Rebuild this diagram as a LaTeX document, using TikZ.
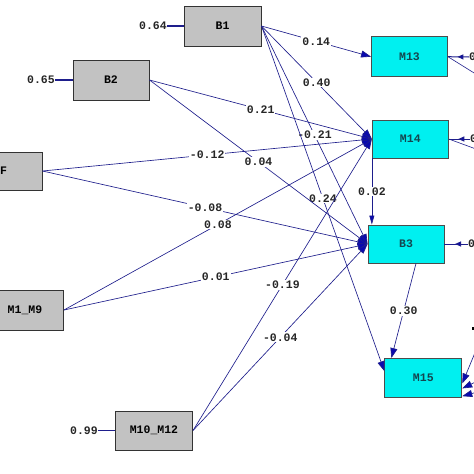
\documentclass[tikz,border=0pt]{standalone}
\usepackage{fontspec}
\setmonofont{Liberation Mono}
\usetikzlibrary{arrows.meta,decorations.markings}
\definecolor{edgeblue}{RGB}{30,30,140}
\definecolor{tipblue}{RGB}{10,10,175}
\definecolor{boxgrey}{RGB}{194,194,194}
\definecolor{boxcyan}{RGB}{0,240,240}
\definecolor{cyantext}{RGB}{20,70,80}
\begin{document}
\begin{tikzpicture}[x=1pt,y=-1pt,
  font=\ttfamily\bfseries\fontsize{11.5}{12}\selectfont,
  obs/.style={draw=black!80, line width=1pt, fill=boxgrey, minimum width=77pt, minimum height=40pt, inner sep=0pt},
  endo/.style={draw=black!70, line width=0.9pt, fill=boxcyan, minimum width=76pt, minimum height=38pt, inner sep=0pt, text=cyantext},
  pathedge/.style={draw=edgeblue, line width=0.65pt, -{Triangle[length=10pt,width=7pt,fill=tipblue]}},
  coef/.style={fill=white, inner sep=1pt, midway, text=black!85},
  errline/.style={draw=edgeblue, line width=1.3pt},
  errarrow/.style={draw=edgeblue, line width=1pt, postaction={decorate},
    decoration={markings, mark=at position 0.55 with {\arrow{Triangle[length=6pt,width=5pt,fill=tipblue]}}}},
  errtext/.style={inner sep=0pt, text=black!85},
]
\useasboundingbox (0,0) rectangle (474,474);
\clip (0,0) rectangle (474,474);
\fill[white] (0,0) rectangle (474,474);

% boxes
\node[obs] (B1) at (222.5,26) {B1};
\node[obs, minimum width=76pt] (B2) at (111,80) {B2};
\node[obs, minimum height=38pt] (F) at (3.5,171) {F};
\node[obs] (M1M9) at (25,310) {M1\_M9};
\node[obs, minimum height=39pt] (M10) at (154,430.5) {M10\_M12};
\node[endo, minimum height=40pt] (M13) at (409.5,56.7) {M13};
\node[endo] (M14) at (410.3,139) {M14};
\node[endo] (B3) at (406,244) {B3};
\node[endo, minimum width=77pt, minimum height=39pt] (M15) at (423.3,378) {M15};

% error terms on the left
\node[errtext, anchor=east] (e1) at (167,26) {0.64};
\node[errtext, anchor=east] (e2) at (55,80) {0.65};
\node[errtext, anchor=east] (e3) at (98,430.5) {0.99};
\draw[errline] (e1.east) -- (B1.west);
\draw[errline] (e2.east) -- (B2.west);
\draw[errline] (e3.east) -- (M10.west);

% structural paths
\draw[pathedge] (B1.east) -- node[coef]{0.14} (M13.west);
\draw[pathedge] (B1.east) -- node[coef]{0.40} (M14.west);
\draw[pathedge] (B1.east) -- node[coef]{-0.21} (B3.west);
\draw[pathedge] (B1.east) -- node[coef]{0.24} (M15.170);
\draw[pathedge] (B2.east) -- node[coef]{0.21} (M14.west);
\draw[pathedge] (B2.east) -- node[coef]{0.04} (B3.west);
\draw[pathedge] (F.east) -- node[coef]{-0.12} (M14.west);
\draw[pathedge] (F.east) -- node[coef]{-0.08} (B3.west);
\draw[pathedge] (M1M9.east) -- node[coef]{0.08} (M14.west);
\draw[pathedge] (M1M9.east) -- node[coef]{0.01} (B3.west);
\draw[pathedge] (M10.east) -- node[coef]{-0.19} (M14.west);
\draw[pathedge] (M10.east) -- node[coef]{-0.04} (B3.west);
\draw[pathedge, -{Triangle[length=9pt,width=5pt,fill=tipblue]}] (M14.south west) -- node[coef]{0.02} (M14.south west |- B3.north);
\draw[pathedge] ([xshift=10pt]B3.south) -- node[coef]{0.30} (M15.148);

% error terms on the right (cut by the frame)
\node[errtext, anchor=west] (z13) at (469,57) {0};
\node[errtext, anchor=west] (z14) at (470,139) {0};
\node[errtext, anchor=west] (z3) at (468,244) {0};
\draw[errarrow] (z13.west) -- (M13.east);
\draw[errarrow] (z14.west) -- (M14.east);
\draw[errarrow] (z3.west) -- (B3.east);
\draw[draw=edgeblue, line width=0.6pt] (M13.east) -- (495,86);
\draw[draw=edgeblue, line width=0.6pt] (M14.east) -- (495,156);
\fill[black] (471.5,326.5) rectangle (474,330);
\coordinate (r1) at (479,343);
\coordinate (r2) at (492,374);
\coordinate (r3) at (492,388);
\draw[pathedge] (r1) -- (M15.-8);
\draw[pathedge] (r2) -- (M15.-15);
\draw[pathedge] (r3) -- (M15.-25);
\end{tikzpicture}
\end{document}
